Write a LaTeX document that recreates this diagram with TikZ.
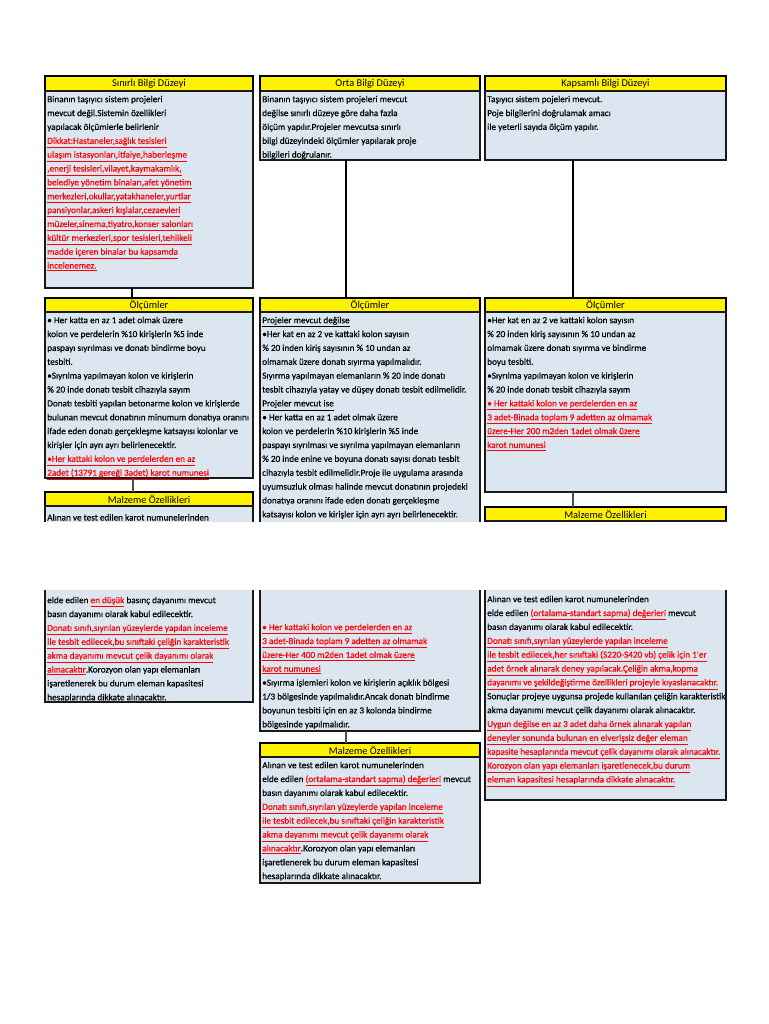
\documentclass[tikz,border=0pt]{standalone}
\usepackage{fontspec}
\setmainfont{Carlito}
\newfontfamily\bodyfont[FakeBold=0.4]{Carlito}
\usetikzlibrary{positioning}
\definecolor{boxblue}{HTML}{DCE6F1}
\definecolor{boxline}{HTML}{1A1A1A}
\newcommand{\redul}[1]{\textcolor{red}{\underline{#1}}}

\begin{document}
\begin{tikzpicture}[x=0.75pt, y=-0.75pt,
    headbox/.style={draw=black, line width=0.8pt, fill=yellow, outer sep=0pt, inner sep=0pt,
      font=\fontsize{7.8}{9}\selectfont},
    bodybox/.style={draw=boxline, line width=1.4pt, fill=boxblue, outer sep=0pt},
    bodytext/.style={anchor=north west, inner sep=0pt, align=left, yshift=-3.4pt,
      font=\bodyfont\fontsize{6.9}{10.4}\selectfont, execute at begin node=\strut},
    topline/.style={draw=black, line width=1.6pt},
    lowline/.style={draw=gray!60!black, line width=1pt}]
    \fill[white] (0,0) rectangle (768,1024);
    \useasboundingbox (0,0) rectangle (768,1024);

    % Draw boxes
    \node[headbox, anchor=north west, minimum width=156pt, minimum height=11.25pt] (sinirliHead) at (45,76) {Sınırlı Bilgi Düzeyi};
    \node[bodybox, below=0pt of sinirliHead, minimum width=156pt, minimum height=147.75pt] (sinirliBody) {};
    \node[headbox, anchor=north west, minimum width=165pt, minimum height=11.25pt] (ortaHead) at (260,76) {Orta Bilgi Düzeyi};
    \node[bodybox, below=0pt of ortaHead, minimum width=165pt, minimum height=51.75pt] (ortaBody) {};
    \node[headbox, anchor=north west, minimum width=180.75pt, minimum height=11.25pt] (kapsamliHead) at (485,76) {Kapsamlı Bilgi Düzeyi};
    \node[bodybox, below=0pt of kapsamliHead, minimum width=180.75pt, minimum height=51.75pt] (kapsamliBody) {};

    \node[headbox, anchor=north west, minimum width=156pt, minimum height=10.5pt] (sinirliOlcHead) at (45,298) {Ölçümler};
    \node[bodybox, below=0pt of sinirliOlcHead, minimum width=156pt, minimum height=124.5pt] (sinirliOlcBody) {};
    \node[headbox, anchor=north west, minimum width=165pt, minimum height=10.5pt] (ortaOlcHead) at (260,298) {Ölçümler};
    \node[bodybox, below=0pt of ortaOlcHead, minimum width=165pt, minimum height=314.25pt] (ortaOlcBody) {};
    \node[headbox, anchor=north west, minimum width=180.75pt, minimum height=10.5pt] (kapsamliOlcHead) at (485,298) {Ölçümler};
    \node[bodybox, below=0pt of kapsamliOlcHead, minimum width=180.75pt, minimum height=135pt] (kapsamliOlcBody) {};

    \node[headbox, anchor=north west, minimum width=156pt, minimum height=10.5pt] (sinirliMalzHead) at (45,492) {Malzeme Özellikleri};
    \node[bodybox, below=0pt of sinirliMalzHead, minimum width=156pt, minimum height=147pt] (sinirliMalzBody) {};
    \node[headbox, anchor=north west, minimum width=165pt, minimum height=10.5pt] (ortaMalzHead) at (260,743) {Malzeme Özellikleri};
    \node[bodybox, below=0pt of ortaMalzHead, minimum width=165pt, minimum height=94.5pt] (ortaMalzBody) {};
    \node[headbox, anchor=north west, minimum width=180.75pt, minimum height=10.5pt] (kapsamliMalzHead) at (485,507) {Malzeme Özellikleri};
    \node[bodybox, below=0pt of kapsamliMalzHead, minimum width=180.75pt, minimum height=209.25pt] (kapsamliMalzBody) {};

    % Draw connections
    \draw[topline] ([xshift=-12.75pt]sinirliBody.south) -- ([xshift=-12.75pt]sinirliOlcHead.north);
    \draw[topline] ([xshift=-18pt]ortaBody.south) -- ([xshift=-18pt]ortaOlcHead.north);
    \draw[topline] ([xshift=-24.4pt]kapsamliBody.south) -- ([xshift=-24.4pt]kapsamliOlcHead.north);
    \draw[lowline] ([xshift=-12pt]sinirliOlcBody.south) -- ([xshift=-12pt]sinirliMalzHead.north);
    \draw[lowline] ([xshift=-18pt]ortaOlcBody.south) -- ([xshift=-18pt]ortaMalzHead.north);
    \draw[lowline] ([xshift=-24.4pt]kapsamliOlcBody.south) -- ([xshift=-24.4pt]kapsamliMalzHead.north);

    % Labels
    \node[bodytext] (sinirliText) at ([xshift=1.5pt]sinirliBody.north west) {%
      Binanın taşıyıcı sistem projeleri\\
      mevcut değil.Sistemin özellikleri\\
      yapılacak ölçümlerle belirlenir\\
      \redul{Dikkat:Hastaneler,sağlık tesisleri}\\
      \redul{ulaşım istasyonları,itfaiye,haberleşme}\\
      \redul{,enerji tesisleri,vilayet,kaymakamlık,}\\
      \redul{belediye yönetim binaları,afet yönetim}\\
      \redul{merkezleri,okullar,yatakhaneler,yurtlar}\\
      \redul{pansiyonlar,askeri kışlalar,cezaevleri}\\
      \redul{müzeler,sinema,tiyatro,konser salonları}\\
      \redul{kültür merkezleri,spor tesisleri,tehlikeli}\\
      \redul{madde içeren binalar bu kapsamda}\\
      \redul{incelenemez.}};
    \node[bodytext] (ortaText) at ([xshift=1.5pt]ortaBody.north west) {%
      Binanın taşıyıcı sistem projeleri mevcut\\
      değilse sınırlı düzeye göre daha fazla\\
      ölçüm yapılır.Projeler mevcutsa sınırlı\\
      bilgi düzeyindeki ölçümler yapılarak proje\\
      bilgileri doğrulanır.};
    \node[bodytext] (kapsamliText) at ([xshift=1.5pt]kapsamliBody.north west) {%
      Taşıyıcı sistem pojeleri mevcut.\\
      Poje bilgilerini doğrulamak amacı\\
      ile yeterli sayıda ölçüm yapılır.};

    \node[bodytext] (sinirliOlcText) at ([xshift=1.5pt]sinirliOlcBody.north west) {%
      • Her katta en az 1 adet olmak üzere\\
      kolon ve perdelerin \%10 kirişlerin \%5 inde\\
      paspayı sıyrılması ve donatı bindirme boyu\\
      tesbiti.\\
      •Sıyrılma yapılmayan kolon ve kirişlerin\\
      \% 20 inde donatı tesbit cihazıyla sayım\\
      Donatı tesbiti yapılan betonarme kolon ve kirişlerde\\
      bulunan mevcut donatının minumum donatıya oranını\\
      ifade eden donatı gerçekleşme katsayısı kolonlar ve\\
      kirişler için ayrı ayrı belirlenecektir.\\
      \redul{•Her kattaki kolon ve perdelerden en az}\\
      \redul{2adet (13791 gereği 3adet) karot numunesi}};
    \node[bodytext] (ortaOlcText) at ([xshift=1.5pt]ortaOlcBody.north west) {%
      \underline{Projeler mevcut değilse}\\
      •Her kat en az 2 ve kattaki kolon sayısın\\
      \% 20 inden kiriş sayısının \% 10 undan az\\
      olmamak üzere donatı sıyırma yapılmalıdır.\\
      Sıyırma yapılmayan elemanların \% 20 inde donatı\\
      tesbit cihazıyla yatay ve düşey donatı tesbit edilmelidir.\\
      \underline{Projeler mevcut ise}\\
      • Her katta en az 1 adet olmak üzere\\
      kolon ve perdelerin \%10 kirişlerin \%5 inde\\
      paspayı sıyrılması ve sıyrılma yapılmayan elemanların\\
      \% 20 inde enine ve boyuna donatı sayısı donatı tesbit\\
      cihazıyla tesbit edilmelidir.Proje ile uygulama arasında\\
      uyumsuzluk olması halinde mevcut donatının projedeki\\
      donatıya oranını ifade eden donatı gerçekleşme\\
      katsayısı kolon ve kirişler için ayrı ayrı belirlenecektir.};
    \node[bodytext] (kapsamliOlcText) at ([xshift=1.5pt]kapsamliOlcBody.north west) {%
      •Her kat en az 2 ve kattaki kolon sayısın\\
      \% 20 inden kiriş sayısının \% 10 undan az\\
      olmamak üzere donatı sıyırma ve bindirme\\
      boyu tesbiti.\\
      •Sıyrılma yapılmayan kolon ve kirişlerin\\
      \% 20 inde donatı tesbit cihazıyla sayım\\
      \redul{• Her kattaki kolon ve perdelerden en az}\\
      \redul{3 adet-Binada toplam 9 adetten az olmamak}\\
      \redul{üzere-Her 200 m2den 1adet olmak üzere}\\
      \redul{karot numunesi}};
    \node[bodytext] (sinirliMalzText) at ([xshift=1.5pt]sinirliMalzBody.north west) {%
      Alınan ve test edilen karot numunelerinden};

    % page gap
    \fill[white] (0,522) rectangle (768,590);

    \node[bodytext] (sinirliMalzRest) at (47,592) {%
      elde edilen \redul{en düşük} basınç dayanımı mevcut\\
      basın dayanımı olarak kabul edilecektir.\\
      \redul{Donatı sınıfı,sıyrılan yüzeylerde yapılan inceleme}\\
      \redul{ile tesbit edilecek,bu sınıftaki çeliğin karakteristik}\\
      \redul{akma dayanımı mevcut çelik dayanımı olarak}\\
      \redul{alınacaktır}.Korozyon olan yapı elemanları\\
      işaretlenerek bu durum eleman kapasitesi\\
      hesaplarında dikkate alınacaktır.};
    \node[bodytext] (ortaOlcRest) at (262,619) {%
      \redul{• Her kattaki kolon ve perdelerden en az}\\
      \redul{3 adet-Binada toplam 9 adetten az olmamak}\\
      \redul{üzere-Her 400 m2den 1adet olmak üzere}\\
      \redul{karot numunesi}\\
      •Sıyırma işlemleri kolon ve kirişlerin açıklık bölgesi\\
      1/3 bölgesinde yapılmalıdır.Ancak donatı bindirme\\
      boyunun tesbiti için en az 3 kolonda bindirme\\
      bölgesinde yapılmalıdır.};
    \node[bodytext] (ortaMalzText) at ([xshift=1.5pt]ortaMalzBody.north west) {%
      Alınan ve test edilen karot numunelerinden\\
      elde edilen \redul{(ortalama-standart sapma) değerleri} mevcut\\
      basın dayanımı olarak kabul edilecektir.\\
      \redul{Donatı sınıfı,sıyrılan yüzeylerde yapılan inceleme}\\
      \redul{ile tesbit edilecek,bu sınıftaki çeliğin karakteristik}\\
      \redul{akma dayanımı mevcut çelik dayanımı olarak}\\
      \redul{alınacaktır}.Korozyon olan yapı elemanları\\
      işaretlenerek bu durum eleman kapasitesi\\
      hesaplarında dikkate alınacaktır.};
    \node[bodytext] (kapsamliMalzRest) at (487,591) {%
      Alınan ve test edilen karot numunelerinden\\
      elde edilen \redul{(ortalama-standart sapma) değerleri} mevcut\\
      basın dayanımı olarak kabul edilecektir.\\
      \redul{Donatı sınıfı,sıyrılan yüzeylerde yapılan inceleme}\\
      \redul{ile tesbit edilecek,her sınıftaki (S220-S420 vb) çelik için 1'er}\\
      \redul{adet örnek alınarak deney yapılacak.Çeliğin akma,kopma}\\
      \redul{dayanımı ve şekildeğiştirme özellikleri projeyle kıyaslanacaktır.}\\
      Sonuçlar projeye uygunsa projede kullanılan çeliğin karakteristik\\
      akma dayanımı mevcut çelik dayanımı olarak alınacaktır.\\
      \redul{Uygun değilse en az  3 adet daha örnek alınarak yapılan}\\
      \redul{deneyler sonunda bulunan en elverişsiz değer eleman}\\
      \redul{kapasite hesaplarında mevcut çelik dayanımı olarak alınacaktır.}\\
      \redul{Korozyon olan yapı elemanları işaretlenecek,bu durum}\\
      \redul{eleman kapasitesi hesaplarında dikkate alınacaktır.}};
\end{tikzpicture}
\end{document}
